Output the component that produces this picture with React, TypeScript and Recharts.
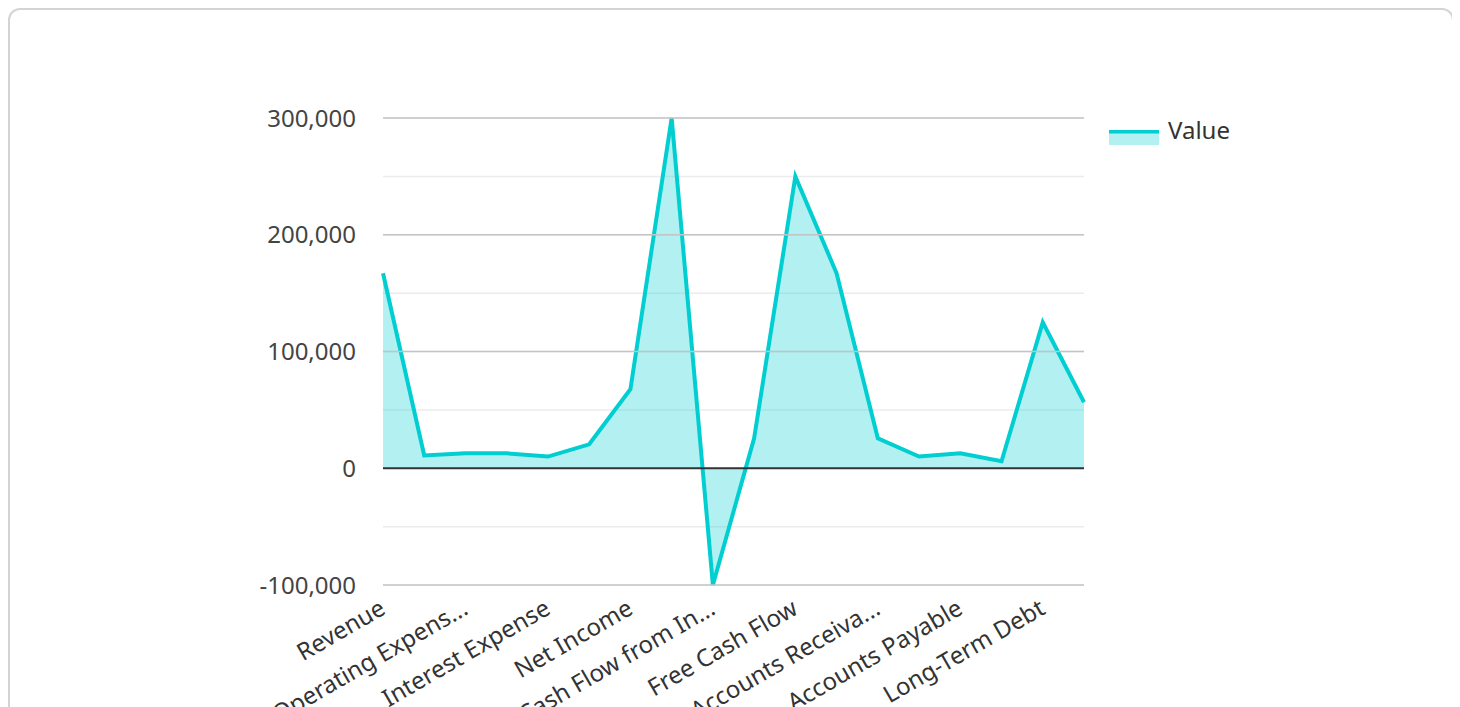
import { AreaChart, Area, XAxis, YAxis, CartesianGrid, Legend, ReferenceLine } from 'recharts';

const categories = [
  'Revenue',
  'Cost of Revenue',
  'Operating Expenses',
  'Depreciation',
  'Interest Expense',
  'Income Tax',
  'Net Income',
  'Cash Flow from Operations',
  'Cash Flow from Investing',
  'Cash Flow from Financing',
  'Free Cash Flow',
  'Cash & Equivalents',
  'Accounts Receivable',
  'Inventory',
  'Accounts Payable',
  'Short-Term Debt',
  'Long-Term Debt',
  "Shareholders' Equity",
];

const values = [
  167000, 11000, 12800, 12800, 10000, 20500, 67700, 300000, -100000,
  25700, 250000, 167000, 25700, 10000, 12800, 6000, 125000, 56500,
];

// shown labels get cut like the original
const shortNames: Record<string, string> = {
  'Operating Expenses': 'Operating Expens...',
  'Cash Flow from Investing': 'Cash Flow from In...',
  'Accounts Receivable': 'Accounts Receiva...',
};

const yTicks = [-100000, -50000, 0, 50000, 100000, 150000, 200000, 250000, 300000];
const majorTicks = [-100000, 100000, 200000, 300000];

const data = categories.map((name, i) => ({ name, value: values[i] }));

const TEAL = '#00CED1';

function XTick(props: any) {
  const { x, y, payload } = props;
  const label = shortNames[payload.value] ?? payload.value;
  return (
    <g transform={`translate(${x + 4},${y + 20})`}>
      <text transform="rotate(-30)" textAnchor="end" fill="#333" fontSize={24}>
        {label}
      </text>
    </g>
  );
}

function LegendBox() {
  return (
    <div style={{ position: 'relative', width: 250, height: 40 }}>
      <svg width={50} height={16} style={{ position: 'absolute', left: 25, top: 12 }}>
        <rect x={0} y={0} width={50} height={15} fill={TEAL} fillOpacity={0.3} />
        <line x1={0} x2={50} y1={1.5} y2={1.5} stroke={TEAL} strokeWidth={4} />
      </svg>
      <span
        style={{
          position: 'absolute',
          left: 84,
          top: -4,
          fontSize: 24,
          lineHeight: '32px',
          color: '#333',
        }}
      >
        Value
      </span>
    </div>
  );
}

export default function App() {
  return (
    <div
      style={{
        width: 1442,
        height: 760,
        border: '2px solid #d4d4d4',
        borderRadius: 12,
        background: '#fff',
        fontFamily: '"Noto Sans", sans-serif',
        overflow: 'hidden',
      }}
    >
      <AreaChart width={1442} height={760} data={data} margin={{ top: 108, right: 118, bottom: 0, left: 0 }}>
        <CartesianGrid vertical={false} stroke="#ececec" strokeWidth={1.5} />
        {majorTicks.map((t) => (
          <ReferenceLine key={t} y={t} stroke="#c4c4c4" strokeWidth={1.5} />
        ))}
        <ReferenceLine y={0} stroke="#333" strokeWidth={2} />
        <XAxis
          dataKey="name"
          interval={1}
          axisLine={false}
          tickLine={false}
          height={185}
          tick={<XTick />}
        />
        <YAxis
          type="number"
          domain={[-100000, 300000]}
          ticks={yTicks}
          width={373}
          axisLine={false}
          tickLine={false}
          tickSize={0}
          tickMargin={27}
          tick={{ fill: '#444', fontSize: 24 }}
          tickFormatter={(v: number) => (v % 100000 === 0 ? v.toLocaleString('en-US') : '')}
        />
        <Legend layout="vertical" align="right" verticalAlign="top" content={<LegendBox />} />
        <Area
          type="linear"
          dataKey="value"
          baseValue={0}
          stroke={TEAL}
          strokeWidth={4}
          fill={TEAL}
          fillOpacity={0.3}
          dot={false}
          activeDot={false}
          isAnimationActive={false}
        />
      </AreaChart>
    </div>
  );
}
